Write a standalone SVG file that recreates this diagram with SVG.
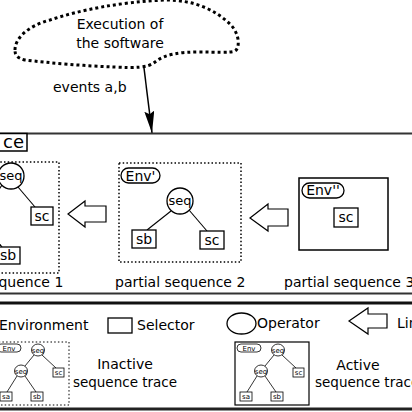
<svg xmlns="http://www.w3.org/2000/svg" width="412" height="412" viewBox="0 0 412 412">
<style>
text{font-family:"DejaVu Sans","Liberation Sans",sans-serif;fill:#000}
.t14{font-size:14px}
.mid{text-anchor:middle}
.node{fill:#fff;stroke:#000;stroke-width:1.3}
.dot{fill:none;stroke:#000;stroke-width:1.5;stroke-dasharray:1.5 2.2}
.edge{stroke:#000;stroke-width:1.1;fill:none}
.blk{fill:#fff;stroke:#000;stroke-width:1.2;stroke-linejoin:miter}
.sm{font-size:7px;text-anchor:middle}
.sn{fill:#fff;stroke:#000;stroke-width:0.8}
.se{stroke:#000;stroke-width:0.8}
</style>
<defs>
<marker id="ah" viewBox="0 0 22 10" refX="22" refY="5" markerWidth="22" markerHeight="10" markerUnits="userSpaceOnUse" orient="auto">
<path d="M0,0 L22,5 L0,10 L3,5 Z" fill="#000"/>
</marker>
<g id="tree">
<line class="se" x1="39" y1="13" x2="30" y2="24"/>
<line class="se" x1="47" y1="13" x2="61" y2="26"/>
<line class="se" x1="22" y1="34" x2="12" y2="50"/>
<line class="se" x1="30" y1="34" x2="41" y2="50"/>
<rect class="sn" x="2" y="2" width="24" height="8" rx="4"/>
<text class="sm" x="14" y="8.5">Env</text>
<ellipse class="sn" cx="43" cy="8" rx="6.5" ry="6"/>
<text class="sm" x="43" y="10.5">seq</text>
<ellipse class="sn" cx="26" cy="29" rx="6.5" ry="6"/>
<text class="sm" x="26" y="31.5">seq</text>
<rect class="sn" x="58" y="26" width="11" height="9"/>
<text class="sm" x="63.5" y="33">sc</text>
<rect class="sn" x="5" y="50" width="12" height="9"/>
<text class="sm" x="11" y="57">sa</text>
<rect class="sn" x="36" y="50" width="12" height="9"/>
<text class="sm" x="42" y="57">sb</text>
</g>
</defs>

<g id="cloud">
<path d="M15,50 C15,38 28,26 50,20 C80,10 120,2 165,0 C195,0 215,10 230,24 C240,34 240,48 235,51 C230,53 215,52 200,52 C180,52 165,54 155,62 C148,68 135,68 115,67 C85,66 50,63 25,60 C17,58 15,55 15,50 Z" fill="none" stroke="#000" stroke-width="3" stroke-dasharray="3 3"/>
<text class="t14 mid" x="120" y="29">Execution of</text>
<text class="t14 mid" x="120" y="48">the software</text>
</g>

<g id="connectors">
<line x1="144" y1="68" x2="152" y2="133" stroke="#000" stroke-width="1.5" marker-end="url(#ah)"/>
<text class="t14" x="53" y="92">events a,b</text>
<polygon class="blk" points="68,214 85,201 85,206 106,206 106,222 85,222 85,227"/>
<polygon class="blk" points="250,218 268,204 268,209 288,209 288,226 268,226 268,231"/>
</g>

<g id="trace">
<rect x="-10" y="133.5" width="432" height="160" fill="none" stroke="#333" stroke-width="2"/>
<rect x="-10" y="133.5" width="37" height="17.5" fill="#fff" stroke="#000" stroke-width="1.5"/>
<text x="24" y="148" style="font-size:18px;text-anchor:end">ce</text>
</g>

<g id="seq1">
<rect class="dot" x="-70" y="162" width="129" height="111"/>
<line class="edge" x1="2" y1="185" x2="-11" y2="205"/>
<line class="edge" x1="-14" y1="226" x2="2" y2="247"/>
<line class="edge" x1="18" y1="187" x2="35" y2="207"/>
<circle class="node" cx="11" cy="176" r="13"/>
<text class="mid" x="11" y="180" style="font-size:13px">seq</text>
<rect class="node" x="31" y="207" width="22" height="18"/>
<text class="t14 mid" x="42" y="221">sc</text>
<rect class="node" x="-4" y="247" width="24" height="17"/>
<text class="t14 mid" x="8" y="260">sb</text>
<text class="t14" x="-67" y="287">partial sequence 1</text>
</g>

<g id="seq2">
<rect class="dot" x="119" y="163" width="122" height="99"/>
<line class="edge" x1="171" y1="211" x2="147" y2="230"/>
<line class="edge" x1="189" y1="210" x2="207" y2="231"/>
<rect class="node" x="121" y="168" width="39" height="15" rx="7.5"/>
<text class="t14 mid" x="140.5" y="181">Env'</text>
<circle class="node" cx="180" cy="201" r="13"/>
<text class="mid" x="180" y="205" style="font-size:13px">seq</text>
<rect class="node" x="132" y="230" width="24" height="18"/>
<text class="t14 mid" x="144" y="244">sb</text>
<rect class="node" x="200" y="231" width="24" height="18"/>
<text class="t14 mid" x="212" y="245">sc</text>
<text class="t14" x="115" y="287">partial sequence 2</text>
</g>

<g id="seq3">
<rect x="299" y="178" width="89" height="72" fill="#fff" stroke="#000" stroke-width="1.5"/>
<rect class="node" x="302" y="183" width="42" height="15" rx="7.5"/>
<text class="t14 mid" x="323" y="195">Env''</text>
<rect class="node" x="334" y="208" width="24" height="19"/>
<text class="t14 mid" x="346" y="222">sc</text>
<text class="t14" x="284" y="287">partial sequence 3</text>
</g>

<g id="legend">
<line x1="0" y1="303" x2="412" y2="303" stroke="#111" stroke-width="3"/>
<line x1="0" y1="409" x2="412" y2="409" stroke="#222" stroke-width="3"/>
<text class="t14" x="-1" y="330">Environment</text>
<rect class="node" x="108" y="318" width="24" height="15"/>
<text class="t14" x="137" y="330">Selector</text>
<ellipse class="node" cx="241.5" cy="323.5" rx="14.5" ry="10.5"/>
<text class="t14" x="257" y="328">Operator</text>
<polygon class="blk" points="349,321 368,308 368,314 387,314 387,328 368,328 368,334"/>
<text class="t14" x="397" y="328">Link</text>
</g>

<g id="inactive">
<g transform="translate(-5,342)">
<rect class="dot" x="0" y="0" width="74" height="63" style="stroke-width:1"/>
<use href="#tree"/>
</g>
<text class="t14 mid" x="125" y="369">Inactive</text>
<text class="mid" x="125" y="387" style="font-size:13.5px">sequence trace</text>
</g>

<g id="active">
<g transform="translate(235,342)">
<rect x="0" y="0" width="74" height="63" fill="#fff" stroke="#000" stroke-width="1.2"/>
<use href="#tree"/>
</g>
<text class="t14 mid" x="358" y="370">Active</text>
<text x="315" y="387" style="font-size:13.5px">sequence trace</text>
</g>
</svg>
